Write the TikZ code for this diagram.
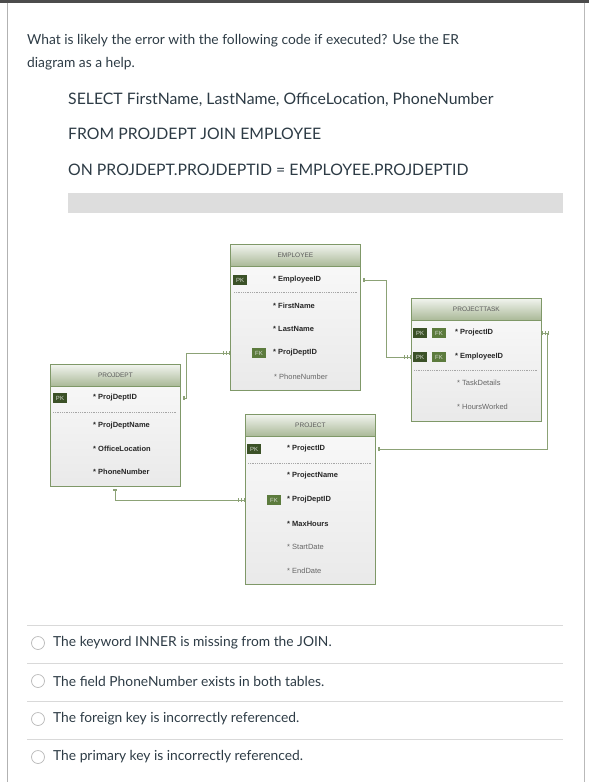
\documentclass[tikz,border=0pt]{standalone}
\usepackage{fontspec}
\setmainfont{Lato}
\newfontfamily\erfont{Liberation Sans}
\usetikzlibrary{arrows.meta, positioning, calc}

\definecolor{textdark}{HTML}{2D3B45}
\definecolor{erline}{HTML}{7F9868}
\definecolor{linkgreen}{HTML}{8CA276}
\definecolor{headtop}{HTML}{F1F4EE}
\definecolor{headbot}{HTML}{A9B896}
\definecolor{pkgreen}{HTML}{3B5127}
\definecolor{fkgreen}{HTML}{5C7B3D}
\definecolor{boxgray}{HTML}{DDDDDD}

\tikzset{
  qtext/.style={text=textdark, inner sep=0pt, font=\fontsize{13.8}{17}\selectfont},
  sqltext/.style={qtext, font=\fontsize{15.8}{19}\selectfont},
  erbox/.style={draw=erline, line width=0.8pt, top color=gray!4, bottom color=gray!17,
    anchor=north west, minimum width=130pt, inner sep=0pt},
  erhead/.style={draw=erline, line width=0.8pt, top color=headtop, bottom color=headbot,
    anchor=north west, minimum width=130pt, minimum height=22pt, inner sep=0pt,
    text=black!65, font=\erfont\fontsize{6.5}{7}\selectfont},
  attr/.style={anchor=west, inner sep=0pt, text=black!85, font=\erfont\bfseries\fontsize{7.5}{8}\selectfont},
  optattr/.style={attr, text=black!60, font=\erfont\fontsize{7.5}{8}\selectfont},
  pk/.style={fill=pkgreen, text=white!80!pkgreen, minimum width=14pt, minimum height=10pt,
    inner sep=0pt, font=\erfont\fontsize{6}{6}\selectfont},
  fk/.style={pk, fill=fkgreen},
  sepline/.style={draw=gray!70, dash pattern=on 1pt off 0.8pt, line width=0.6pt},
  erconn/.style={draw=linkgreen, line width=1pt,
    arrows={Bar[width=4pt,sep=2.5pt]Bar[width=4pt]-Bar[width=4pt,sep=2pt]Bar[width=4pt,sep=2pt]Bar[width=4pt]}},
  optrule/.style={draw=gray!30, line width=0.8pt},
  radio/.style={circle, draw=gray!55, fill=white, minimum size=13pt, inner sep=0pt, line width=0.7pt}
}

\begin{document}
\begin{tikzpicture}[x=1pt,y=-1pt]
    \useasboundingbox (0,0) rectangle (589,782);
    % card frame
    \fill[black!70] (0,0) rectangle (589,2.5);
    \draw[gray!60, line width=1pt] (7.5,2.5) -- (7.5,782);
    \draw[gray!55, line width=1.5pt] (584.5,2.5) -- (584.5,782);

    % question and query
    \node[qtext, anchor=base west] (q1) at (27,44) {What is likely the error with the following code if executed? Use the ER};
    \node[qtext, anchor=base west] (q2) at (27,67) {diagram as a help.};
    \node[sqltext, anchor=base west] (sql1) at (68,104) {SELECT FirstName, LastName, OfficeLocation, PhoneNumber};
    \node[sqltext, anchor=base west] (sql2) at (68,139) {FROM PROJDEPT JOIN EMPLOYEE};
    \node[sqltext, anchor=base west] (sql3) at (68,175) {ON PROJDEPT.PROJDEPTID = EMPLOYEE.PROJDEPTID};
    \node[fill=boxgray, anchor=north west, minimum width=495pt, minimum height=20pt, inner sep=0pt] (ans) at (68,193) {};

    % EMPLOYEE
    \node[erbox, minimum height=146pt] (emp) at (230,244) {};
    \node[erhead] (emp-h) at (emp.north west) {EMPLOYEE};
    \node[pk] at (240,280) {PK};
    \node[attr] (emp-id) at (273,280) {* EmployeeID};
    \draw[sepline] (234,292) -- (357,292);
    \node[attr] (emp-fn) at (273,306) {* FirstName};
    \node[attr] (emp-ln) at (273,329) {* LastName};
    \node[fk] at (259,353) {FK};
    \node[attr] (emp-dept) at (273,353) {* ProjDeptID};
    \node[optattr] (emp-ph) at (274,377) {* PhoneNumber};

    % PROJECTTASK
    \node[erbox, minimum height=123pt] (task) at (411,298) {};
    \node[erhead] (task-h) at (task.north west) {PROJECTTASK};
    \node[pk] at (420,333) {PK};
    \node[fk] at (439,333) {FK};
    \node[attr] (task-proj) at (455,333) {* ProjectID};
    \node[pk] at (420,357) {PK};
    \node[fk] at (439,357) {FK};
    \node[attr] (task-emp) at (455,357) {* EmployeeID};
    \draw[sepline] (414,370) -- (538,370);
    \node[optattr] (task-det) at (457,383) {* TaskDetails};
    \node[optattr] (task-hrs) at (457,407) {* HoursWorked};

    % PROJDEPT
    \node[erbox, minimum height=122pt] (dept) at (50,364) {};
    \node[erhead] (dept-h) at (dept.north west) {PROJDEPT};
    \node[pk] at (60,398) {PK};
    \node[attr] (dept-id) at (93,398) {* ProjDeptID};
    \draw[sepline] (53,412) -- (177,412);
    \node[attr] (dept-name) at (93,426) {* ProjDeptName};
    \node[attr] (dept-loc) at (93,449) {* OfficeLocation};
    \node[attr] (dept-ph) at (93,472) {* PhoneNumber};

    % PROJECT
    \node[erbox, minimum height=170pt] (proj) at (245,414) {};
    \node[erhead] (proj-h) at (proj.north west) {PROJECT};
    \node[pk] at (254,449) {PK};
    \node[attr] (proj-id) at (287,449) {* ProjectID};
    \draw[sepline] (248,463) -- (372,463);
    \node[attr] (proj-name) at (287,476) {* ProjectName};
    \node[fk] at (274,500) {FK};
    \node[attr] (proj-dept) at (287,500) {* ProjDeptID};
    \node[attr] (proj-max) at (287,524) {* MaxHours};
    \node[optattr] (proj-start) at (287,547) {* StartDate};
    \node[optattr] (proj-end) at (287,571) {* EndDate};

    % relationships
    \coordinate (proj-bend) at ($(task.east |- proj-id)+(6,0)$);
    \draw[erconn] (emp.east |- emp-id) -- ++(26,0) |- (task.west |- task-emp);
    \draw[erconn] (dept.east |- dept-id) -- ++(6,0) |- (emp.west |- emp-dept);
    \draw[erconn] (dept.south) |- (proj.west |- proj-dept);
    \draw[erconn] (proj.east |- proj-id) -- (proj-bend) |- (task.east |- task-proj);

    % answers
    \foreach \txt [count=\i] in {The keyword INNER is missing from the JOIN., The field PhoneNumber exists in both tables., The foreign key is incorrectly referenced., The primary key is incorrectly referenced.}{
        \pgfmathsetmacro\ry{625+38*(\i-1)}
        \draw[optrule] (27,\ry) -- (563,\ry);
        \node[radio] (radio\i) at (38,\ry+18) {};
        \node[qtext, anchor=west] (opt\i) at (53,\ry+18) {\txt};
    }
\end{tikzpicture}
\end{document}
